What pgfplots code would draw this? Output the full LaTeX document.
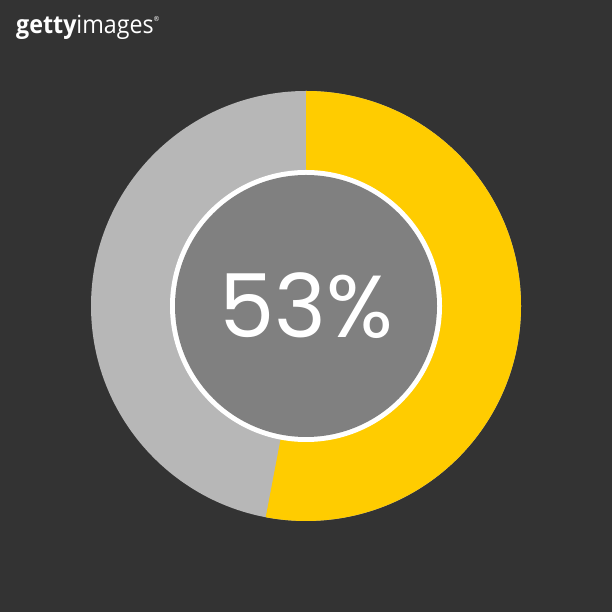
\documentclass[border=0pt]{standalone}
\usepackage{pgfplots}
\pgfplotsset{compat=1.18}
\usepackage{fontspec}
\usepackage{graphicx}
\newfontfamily\popfont{Poppins}
\newfontfamily\gettyfont{Open Sans}
\definecolor{bg}{HTML}{333333}
\definecolor{lgray}{HTML}{B7B7B7}
\definecolor{ylw}{HTML}{FFCC00}
\definecolor{mgray}{HTML}{808080}
\begin{document}
\begin{tikzpicture}
\pgfmathsetmacro{\pct}{53}
\pgfmathsetmacro{\endang}{90-3.6*\pct}
\begin{axis}[
  width=612pt, height=612pt, scale only axis,
  xmin=0, xmax=612, ymin=0, ymax=612,
  axis lines=none, clip=false,
]
\fill[bg] (axis cs:0,0) rectangle (axis cs:612,612);
% whole ring in grey (remainder), then the value in yellow
\fill[lgray] (axis cs:306,306) circle[radius=215pt];
\fill[ylw] (axis cs:306,306) -- ++(90:215pt) arc[start angle=90, end angle=\endang, radius=215pt] -- cycle;
% inner disk with white ring
\fill[white] (axis cs:306,306) circle[radius=136pt];
\fill[mgray] (axis cs:306,306) circle[radius=131pt];
\node[text=white, font=\popfont\fontsize{88}{88}\selectfont, inner sep=0pt] at (axis cs:306,306) {53\%};
\node[text=white, anchor=base west, inner sep=0pt] at (axis cs:16,578) {\scalebox{0.93}[1]{\gettyfont\fontsize{25}{25}\selectfont\bfseries getty\mdseries images\raisebox{0.95ex}{\fontsize{7}{7}\selectfont ®}}};
\end{axis}
\end{tikzpicture}
\end{document}
